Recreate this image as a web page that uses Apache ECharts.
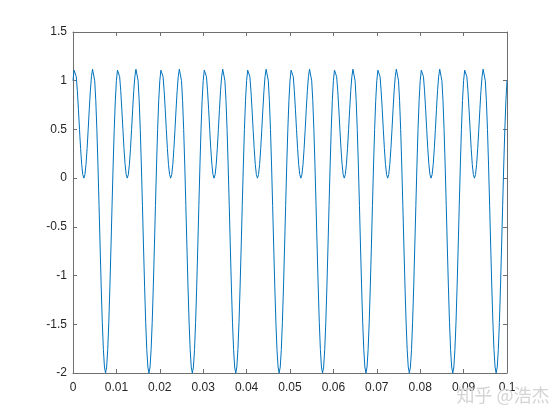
<!DOCTYPE html>
<html>
<head>
<meta charset="utf-8">
<script src="https://cdn.jsdelivr.net/npm/echarts@6/dist/echarts.min.js"></script>
<style>html,body{margin:0;padding:0;background:#fff}#c{width:560px;height:420px}</style>
</head>
<body>
<div id="c"></div>
<script>
var xTickLabels = ['0','0.01','0.02','0.03','0.04','0.05','0.06','0.07','0.08','0.09','0.1'];
var yTickLabels = ['-2','-1.5','-1','-0.5','0','0.5','1','1.5'];
var watermark = '知乎 @浩杰';
var tValues = [
0,0.00025,0.0005,0.00075,0.001,0.00125,0.0015,0.00175,0.002,0.00225,0.0025,0.00275,0.003,0.00325,0.0035,0.00375,0.004,0.00425,0.0045,0.00475,0.005,0.00525,0.0055,0.00575,0.006,0.00625,0.0065,0.00675,0.007,0.00725,0.0075,0.00775,0.008,0.00825,0.0085,0.00875,0.009,0.00925,0.0095,0.00975,
0.01,0.01025,0.0105,0.01075,0.011,0.01125,0.0115,0.01175,0.012,0.01225,0.0125,0.01275,0.013,0.01325,0.0135,0.01375,0.014,0.01425,0.0145,0.01475,0.015,0.01525,0.0155,0.01575,0.016,0.01625,0.0165,0.01675,0.017,0.01725,0.0175,0.01775,0.018,0.01825,0.0185,0.01875,0.019,0.01925,0.0195,0.01975,
0.02,0.02025,0.0205,0.02075,0.021,0.02125,0.0215,0.02175,0.022,0.02225,0.0225,0.02275,0.023,0.02325,0.0235,0.02375,0.024,0.02425,0.0245,0.02475,0.025,0.02525,0.0255,0.02575,0.026,0.02625,0.0265,0.02675,0.027,0.02725,0.0275,0.02775,0.028,0.02825,0.0285,0.02875,0.029,0.02925,0.0295,0.02975,
0.03,0.03025,0.0305,0.03075,0.031,0.03125,0.0315,0.03175,0.032,0.03225,0.0325,0.03275,0.033,0.03325,0.0335,0.03375,0.034,0.03425,0.0345,0.03475,0.035,0.03525,0.0355,0.03575,0.036,0.03625,0.0365,0.03675,0.037,0.03725,0.0375,0.03775,0.038,0.03825,0.0385,0.03875,0.039,0.03925,0.0395,0.03975,
0.04,0.04025,0.0405,0.04075,0.041,0.04125,0.0415,0.04175,0.042,0.04225,0.0425,0.04275,0.043,0.04325,0.0435,0.04375,0.044,0.04425,0.0445,0.04475,0.045,0.04525,0.0455,0.04575,0.046,0.04625,0.0465,0.04675,0.047,0.04725,0.0475,0.04775,0.048,0.04825,0.0485,0.04875,0.049,0.04925,0.0495,0.04975,
0.05,0.05025,0.0505,0.05075,0.051,0.05125,0.0515,0.05175,0.052,0.05225,0.0525,0.05275,0.053,0.05325,0.0535,0.05375,0.054,0.05425,0.0545,0.05475,0.055,0.05525,0.0555,0.05575,0.056,0.05625,0.0565,0.05675,0.057,0.05725,0.0575,0.05775,0.058,0.05825,0.0585,0.05875,0.059,0.05925,0.0595,0.05975,
0.06,0.06025,0.0605,0.06075,0.061,0.06125,0.0615,0.06175,0.062,0.06225,0.0625,0.06275,0.063,0.06325,0.0635,0.06375,0.064,0.06425,0.0645,0.06475,0.065,0.06525,0.0655,0.06575,0.066,0.06625,0.0665,0.06675,0.067,0.06725,0.0675,0.06775,0.068,0.06825,0.0685,0.06875,0.069,0.06925,0.0695,0.06975,
0.07,0.07025,0.0705,0.07075,0.071,0.07125,0.0715,0.07175,0.072,0.07225,0.0725,0.07275,0.073,0.07325,0.0735,0.07375,0.074,0.07425,0.0745,0.07475,0.075,0.07525,0.0755,0.07575,0.076,0.07625,0.0765,0.07675,0.077,0.07725,0.0775,0.07775,0.078,0.07825,0.0785,0.07875,0.079,0.07925,0.0795,0.07975,
0.08,0.08025,0.0805,0.08075,0.081,0.08125,0.0815,0.08175,0.082,0.08225,0.0825,0.08275,0.083,0.08325,0.0835,0.08375,0.084,0.08425,0.0845,0.08475,0.085,0.08525,0.0855,0.08575,0.086,0.08625,0.0865,0.08675,0.087,0.08725,0.0875,0.08775,0.088,0.08825,0.0885,0.08875,0.089,0.08925,0.0895,0.08975,
0.09,0.09025,0.0905,0.09075,0.091,0.09125,0.0915,0.09175,0.092,0.09225,0.0925,0.09275,0.093,0.09325,0.0935,0.09375,0.094,0.09425,0.0945,0.09475,0.095,0.09525,0.0955,0.09575,0.096,0.09625,0.0965,0.09675,0.097,0.09725,0.0975,0.09775,0.098,0.09825,0.0985,0.09875,0.099,0.09925,0.0995,0.09975,
0.1
];
var yValues = [
1,1.108,1.118,1.042,0.897,0.707,0.5,0.303,0.142,0.037,0,0.037,0.142,0.303,0.5,0.707,0.897,1.042,1.118,1.108,1,0.795,0.5,0.134,-0.279,-0.707,-1.118,-1.479,-1.76,-1.939,-2,-1.939,-1.76,-1.479,-1.118,-0.707,-0.279,0.134,0.5,0.795,
1,1.108,1.118,1.042,0.897,0.707,0.5,0.303,0.142,0.037,0,0.037,0.142,0.303,0.5,0.707,0.897,1.042,1.118,1.108,1,0.795,0.5,0.134,-0.279,-0.707,-1.118,-1.479,-1.76,-1.939,-2,-1.939,-1.76,-1.479,-1.118,-0.707,-0.279,0.134,0.5,0.795,
1,1.108,1.118,1.042,0.897,0.707,0.5,0.303,0.142,0.037,0,0.037,0.142,0.303,0.5,0.707,0.897,1.042,1.118,1.108,1,0.795,0.5,0.134,-0.279,-0.707,-1.118,-1.479,-1.76,-1.939,-2,-1.939,-1.76,-1.479,-1.118,-0.707,-0.279,0.134,0.5,0.795,
1,1.108,1.118,1.042,0.897,0.707,0.5,0.303,0.142,0.037,0,0.037,0.142,0.303,0.5,0.707,0.897,1.042,1.118,1.108,1,0.795,0.5,0.134,-0.279,-0.707,-1.118,-1.479,-1.76,-1.939,-2,-1.939,-1.76,-1.479,-1.118,-0.707,-0.279,0.134,0.5,0.795,
1,1.108,1.118,1.042,0.897,0.707,0.5,0.303,0.142,0.037,0,0.037,0.142,0.303,0.5,0.707,0.897,1.042,1.118,1.108,1,0.795,0.5,0.134,-0.279,-0.707,-1.118,-1.479,-1.76,-1.939,-2,-1.939,-1.76,-1.479,-1.118,-0.707,-0.279,0.134,0.5,0.795,
1,1.108,1.118,1.042,0.897,0.707,0.5,0.303,0.142,0.037,0,0.037,0.142,0.303,0.5,0.707,0.897,1.042,1.118,1.108,1,0.795,0.5,0.134,-0.279,-0.707,-1.118,-1.479,-1.76,-1.939,-2,-1.939,-1.76,-1.479,-1.118,-0.707,-0.279,0.134,0.5,0.795,
1,1.108,1.118,1.042,0.897,0.707,0.5,0.303,0.142,0.037,0,0.037,0.142,0.303,0.5,0.707,0.897,1.042,1.118,1.108,1,0.795,0.5,0.134,-0.279,-0.707,-1.118,-1.479,-1.76,-1.939,-2,-1.939,-1.76,-1.479,-1.118,-0.707,-0.279,0.134,0.5,0.795,
1,1.108,1.118,1.042,0.897,0.707,0.5,0.303,0.142,0.037,0,0.037,0.142,0.303,0.5,0.707,0.897,1.042,1.118,1.108,1,0.795,0.5,0.134,-0.279,-0.707,-1.118,-1.479,-1.76,-1.939,-2,-1.939,-1.76,-1.479,-1.118,-0.707,-0.279,0.134,0.5,0.795,
1,1.108,1.118,1.042,0.897,0.707,0.5,0.303,0.142,0.037,0,0.037,0.142,0.303,0.5,0.707,0.897,1.042,1.118,1.108,1,0.795,0.5,0.134,-0.279,-0.707,-1.118,-1.479,-1.76,-1.939,-2,-1.939,-1.76,-1.479,-1.118,-0.707,-0.279,0.134,0.5,0.795,
1,1.108,1.118,1.042,0.897,0.707,0.5,0.303,0.142,0.037,0,0.037,0.142,0.303,0.5,0.707,0.897,1.042,1.118,1.108,1,0.795,0.5,0.134,-0.279,-0.707,-1.118,-1.479,-1.76,-1.939,-2,-1.939,-1.76,-1.479,-1.118,-0.707,-0.279,0.134,0.5,0.795,
1
];

var axisColor = '#6f6f6f';
var textColor = '#262626';
var fontFam = 'Liberation Sans, Arial, Helvetica, sans-serif';

var pairs = tValues.map(function (t, i) { return [t, yValues[i]]; });

function xLab(v) {
  var idx = Math.round(v / 0.01);
  return xTickLabels[idx] !== undefined ? xTickLabels[idx] : '';
}
function yLab(v) {
  var idx = Math.round((v + 2) / 0.5);
  return yTickLabels[idx] !== undefined ? yTickLabels[idx] : '';
}

var baseAxis = {
  axisLine: { show: true, onZero: false, lineStyle: { color: axisColor, width: 1 } },
  axisTick: { show: true, inside: true, length: 4, lineStyle: { color: axisColor } },
  splitLine: { show: false }
};

var chart = echarts.init(document.getElementById('c'), null, { renderer: 'canvas' });
chart.setOption({
  animation: false,
  backgroundColor: '#ffffff',
  grid: { left: 73, top: 32, right: 53, bottom: 47, containLabel: false },
  xAxis: [
    Object.assign({}, baseAxis, {
      type: 'value', min: 0, max: 0.1, interval: 0.01, position: 'bottom',
      axisLabel: { color: textColor, fontSize: 12, fontFamily: fontFam, margin: 9, formatter: xLab }
    }),
    Object.assign({}, baseAxis, {
      type: 'value', min: 0, max: 0.1, interval: 0.01, position: 'top',
      axisLabel: { show: false }
    })
  ],
  yAxis: [
    Object.assign({}, baseAxis, {
      type: 'value', min: -2, max: 1.5, interval: 0.5, position: 'left',
      axisLabel: { color: textColor, fontSize: 12, fontFamily: fontFam, margin: 6, formatter: yLab }
    }),
    Object.assign({}, baseAxis, {
      type: 'value', min: -2, max: 1.5, interval: 0.5, position: 'right',
      axisLabel: { show: false }
    })
  ],
  series: [{
    type: 'line',
    xAxisIndex: 0,
    yAxisIndex: 0,
    data: pairs,
    showSymbol: false,
    symbol: 'none',
    lineStyle: { color: '#0072BD', width: 1 },
    clip: true
  }],
  graphic: [{
    type: 'text',
    left: 456,
    top: 386,
    z: 100,
    style: {
      text: watermark,
      fontSize: 18,
      fontFamily: 'Noto Sans CJK SC, sans-serif',
      fill: 'rgba(205,205,205,0.85)',
      stroke: 'rgba(255,255,255,0.6)',
      lineWidth: 1
    }
  }]
});
</script>
</body>
</html>
